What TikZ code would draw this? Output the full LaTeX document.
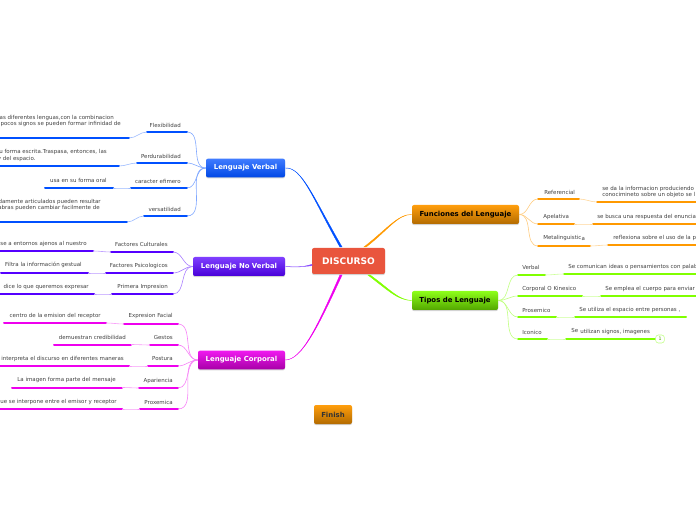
\documentclass[tikz,border=0pt]{standalone}
\usepackage{fontspec}
\setmainfont{DejaVu Sans}
\usepackage{tikz}
\usetikzlibrary{shadows,positioning}
\definecolor{cblue}{HTML}{0050FF}
\definecolor{cpurple}{HTML}{5500FF}
\definecolor{cmagenta}{HTML}{EE00EE}
\definecolor{corange}{HTML}{FF9900}
\definecolor{cgreen}{HTML}{80FF00}
\definecolor{cred}{HTML}{E9553D}
\tikzstyle{topic} = [draw=none, rounded corners=1.5pt, inner sep=0pt, font=\bfseries\fontsize{5.2}{6}\selectfont, drop shadow={shadow xshift=0pt,shadow yshift=-0.8pt,opacity=.35}]
\tikzstyle{lab} = [inner sep=0pt, text=black!75, font=\fontsize{4.12}{5}\selectfont]
\tikzstyle{bar} = [line width=1.5pt, line cap=round]
\tikzstyle{link} = [line width=0.45pt, out=180, in=0]
\tikzstyle{rlink} = [line width=0.45pt, out=0, in=180]
\tikzstyle{mainlink} = [line width=.3pt]
\begin{document}
\begin{tikzpicture}[x=0.75pt,y=-0.75pt]
	\useasboundingbox (0,0) rectangle (696,520);
	% central topic and main topics
	\node (disc) [topic,minimum width=54.75pt,minimum height=19.5pt,fill=cred,text=white,font=\bfseries\fontsize{6.8}{8}\selectfont] at (348.5,261) {DISCURSO};
	\node (verbal) [topic,minimum width=59.25pt,minimum height=14pt,top color=cblue!75!white,bottom color=cblue!90!black,text=white] at (245.5,168) {Lenguaje Verbal};
	\node (noverbal) [topic,minimum width=69pt,minimum height=14.25pt,top color=cpurple!75!white,bottom color=cpurple!85!black,text=white] at (239,266.5) {Lenguaje No Verbal};
	\node (corporal) [topic,minimum width=65.25pt,minimum height=14pt,top color=cmagenta!90!white,bottom color=cmagenta!70!black,text=white] at (241.5,360) {Lenguaje Corporal};
	\node (funciones) [topic,minimum width=80.25pt,minimum height=14.25pt,top color=corange!95!white,bottom color=corange!70!black,text=black] at (465.5,214.5) {Funciones del Lenguaje};
	\node (tipos) [topic,minimum width=64.5pt,minimum height=14.25pt,top color=cgreen!90!white,bottom color=cgreen!65!black,text=black] at (455,300.5) {Tipos de Lenguaje};
	\node (finish) [topic,minimum width=28.5pt,minimum height=14.25pt,top color=corange!95!white,bottom color=corange!70!black,text=black!80] at (333,414.5) {Finish};

	\coordinate (dv) at (341,247); % main links
	\coordinate (dn) at (312,265);
	\coordinate (dc) at (341,275);
	\coordinate (df) at (365,247);
	\coordinate (dt) at (369,275);
	\draw[mainlink,cblue,fill=cblue] ([xshift=-.8pt]dv) .. controls (312,197) and (302,167) .. (verbal.east) .. controls (302,167) and (313,197) .. ([xshift=.8pt]dv) -- cycle;
	\draw[mainlink,cpurple!70!white,fill=cpurple!70!white] ([yshift=-.5pt]dn) .. controls (300,267) and (295,267) .. (noverbal.east) .. controls (295,267) and (300,268) .. ([yshift=.5pt]dn) -- cycle;
	\draw[mainlink,cmagenta,fill=cmagenta] ([xshift=-.8pt]dc) .. controls (318,325) and (302,360) .. (corporal.east) .. controls (302,360) and (319,325) .. ([xshift=.8pt]dc) -- cycle;
	\draw[mainlink,corange,fill=corange] ([xshift=-.8pt]df) .. controls (386,230) and (398,214) .. (funciones.west) .. controls (398,214) and (387,231) .. ([xshift=.8pt]df) -- cycle;
	\draw[mainlink,cgreen,fill=cgreen] ([xshift=-.8pt]dt) .. controls (390,292) and (398,300) .. (tipos.west) .. controls (398,300) and (391,290) .. ([xshift=.8pt]dt) -- cycle;

	% Lenguaje Verbal
	\draw[bar,cblue] (147,132) coordinate (flexL) -- (187,132) coordinate (flexR);
	\draw[bar,cblue] (-5,138) -- (129,138) coordinate (flexT);
	\node (flex) [lab,anchor=east] at (181,125) {Flexibilidad};
	\node (flexa) [lab,anchor=east] at (114,118) {as diferentes lenguas,con la combinacion};
	\node (flexb) [lab,anchor=east] at (121,124) {pocos signos se pueden  formar infinidad de};
	\draw[bar,cblue] (137,163) coordinate (perdL) -- (187,163) coordinate (perdR);
	\draw[bar,cblue] (-5,166) -- (119,166) coordinate (perdT);
	\node (perd) [lab,anchor=east] at (181,156) {Perdurabilidad};
	\node (perda) [lab,anchor=east] at (107,152) {u forma escrita.Traspasa, entonces, las};
	\node (perdb) [lab,anchor=east] at (36,159) {y del espacio.};
	\draw[bar,cblue] (131,188) coordinate (efimL) -- (187,188) coordinate (efimR);
	\draw[bar,cblue] (45,188) -- (113,188) coordinate (efimT);
	\node (efim) [lab,anchor=east] at (181,181) {caracter efimero};
	\node (efima) [lab,anchor=east] at (107,180) {usa en su forma oral};
	\draw[bar,cblue] (144,216) coordinate (versL) -- (187,216) coordinate (versR);
	\draw[bar,cblue] (-5,222) -- (127,222) coordinate (versT);
	\node (vers) [lab,anchor=east] at (181,209) {versatilidad};
	\node (versa) [lab,anchor=east] at (101,202) {damente articulados pueden resultar};
	\node (versb) [lab,anchor=east] at (100,208) {abras pueden cambiar facilmente de};
	\foreach \n in {flex,perd,efim,vers} {
		\draw[link,cblue!50!white] (verbal.west) to (\n R);
		\draw[link,cblue!40!white] (\n L) to (\n T);
	}

	% Lenguaje No Verbal
	\draw[bar,cpurple] (111,252) coordinate (cultL) -- (173,252) coordinate (cultR);
	\draw[bar,cpurple] (-5,251) -- (93,251) coordinate (cultT);
	\node (cult) [lab,anchor=east] at (168,244) {Factores Culturales};
	\node (culta) [lab,anchor=east] at (87,244) {se a entornos ajenos al nuestro};
	\draw[bar,cpurple] (106,273) coordinate (psicL) -- (173,273) coordinate (psicR);
	\draw[bar,cpurple] (1,273) -- (88,273) coordinate (psicT);
	\node (psic) [lab,anchor=east] at (168,266) {Factores Psicologicos};
	\node (psica) [lab,anchor=east] at (82,265) {Filtra la información gestual};
	\draw[bar,cpurple] (112,294) coordinate (primL) -- (173,294) coordinate (primR);
	\draw[bar,cpurple] (-5,294) -- (94,294) coordinate (primT);
	\node (prim) [lab,anchor=east] at (168,287) {Primera Impresion};
	\node (prima) [lab,anchor=east] at (89,287) {dice lo que queremos expresar};
	\foreach \n in {cult,psic,prim} {
		\draw[link,cpurple!50!white] (noverbal.west) to (\n R);
		\draw[link,cpurple!40!white] (\n L) to (\n T);
	}

	% Lenguaje Corporal
	\draw[bar,cmagenta] (124,324) coordinate (exprL) -- (178,324) coordinate (exprR);
	\draw[bar,cmagenta] (4,323) -- (106,323) coordinate (exprT);
	\node (expr) [lab,anchor=east] at (173,316) {Expresion Facial};
	\node (expra) [lab,anchor=east] at (101,316) {centro de la emision del receptor};
	\draw[bar,cmagenta] (150,345) coordinate (gestL) -- (178,345) coordinate (gestR);
	\draw[bar,cmagenta] (54,344.5) -- (131,344.5) coordinate (gestT);
	\node (gest) [lab,anchor=east] at (173,338) {Gestos};
	\node (gesta) [lab,anchor=east] at (126,337) {demuestran credibilidad};
	\draw[bar,cmagenta] (148,366) coordinate (postL) -- (178,366) coordinate (postR);
	\draw[bar,cmagenta] (-5,366) -- (129,366) coordinate (postT);
	\node (post) [lab,anchor=east] at (173,359) {Postura};
	\node (posta) [lab,anchor=east] at (124,359) {interpreta el discurso  en diferentes maneras};
	\draw[bar,cmagenta] (139,388) coordinate (aparL) -- (178,388) coordinate (aparR);
	\draw[bar,cmagenta] (12,387.5) -- (122,387.5) coordinate (aparT);
	\node (apar) [lab,anchor=east] at (173,381) {Apariencia};
	\node (apara) [lab,anchor=east] at (116,380) {La imagen forma parte del mensaje};
	\draw[bar,cmagenta] (140,409) coordinate (proxL) -- (178,409) coordinate (proxR);
	\draw[bar,cmagenta] (-5,409) -- (122,409) coordinate (proxT);
	\node (prox) [lab,anchor=east] at (173,402) {Proxemica};
	\node (proxa) [lab,anchor=east] at (117,402) {ue se interpone entre el emisor y receptor};
	\foreach \n in {expr,gest,post,apar,prox} {
		\draw[link,cmagenta!50!white] (corporal.west) to (\n R);
		\draw[link,cmagenta!40!white] (\n L) to (\n T);
	}

	% Funciones del Lenguaje
	\draw[bar,corange] (538,199) coordinate (refeL) -- (579,199) coordinate (refeR);
	\draw[bar,corange] (597,202) coordinate (refeT) -- (701,202);
	\node (refe) [lab,anchor=west] at (544,192) {Referencial};
	\node (refea) [lab,anchor=west] at (602,189) {se da la informacion produciendo};
	\node (refeb) [lab,anchor=west] at (602,195) {conocimineto sobre un objeto se l};
	\draw[bar,corange] (538,224) coordinate (apelL) -- (574,224) coordinate (apelR);
	\draw[bar,corange] (593,224) coordinate (apelT) -- (701,224);
	\node (apel) [lab,anchor=west] at (543,217) {Apelativa};
	\node (apela) [lab,anchor=west] at (597,217) {se busca una respuesta del enunciad};
	\draw[bar,corange] (538,246) coordinate (metaL) -- (590,246) coordinate (metaR);
	\draw[bar,corange] (608,245) coordinate (metaT) -- (701,245);
	\node (meta) [lab,anchor=west] at (543,238) {Metalinguistic\raisebox{-.5pt}{a}};
	\node (metaa) [lab,anchor=west] at (613,238) {reflexiona sobre el uso de la p};
	\foreach \n in {refe,apel,meta} {
		\draw[rlink,corange!50!white] (funciones.east) to (\n L);
		\draw[rlink,corange!40!white] (\n R) to (\n T);
	}

	% Tipos de Lenguaje
	\draw[bar,cgreen] (518,275) coordinate (verbL) -- (545,275) coordinate (verbR);
	\draw[bar,cgreen] (564,274) coordinate (verbT) -- (701,274);
	\node (verb) [lab,anchor=west] at (522,267) {Verbal};
	\node (verba) [lab,anchor=west] at (568,267) {Se comunican ideas o pensamientos con  palab};
	\draw[bar,cgreen] (518,296) coordinate (kineL) -- (582,296) coordinate (kineR);
	\draw[bar,cgreen] (601,296) coordinate (kineT) -- (701,296);
	\node (kine) [lab,anchor=west] at (522,289) {Corporal O Kinesico};
	\node (kinea) [lab,anchor=west] at (605,289) {Se emplea el cuerpo para enviar};
	\draw[bar,cgreen] (518,317) coordinate (proseL) -- (556,317) coordinate (proseR);
	\draw[bar,cgreen] (575,317) coordinate (proseT) -- (686,317);
	\node (prose) [lab,anchor=west] at (522,310) {Prosemico};
	\node (prosea) [lab,anchor=west] at (579,310) {Se utiliza el espacio entre personas ,};
	\draw[bar,cgreen] (518,339) coordinate (iconL) -- (547,339) coordinate (iconR);
	\draw[bar,cgreen] (566,339) coordinate (iconT) -- (656,339) coordinate (iconE);
	\node (icon) [lab,anchor=west] at (522,332) {Iconico};
	\node (icona) [lab,anchor=west] at (571,331) {Se};
	\node (iconb) [lab,anchor=west] at (580,332) {utilizan signos, imagenes};
	\node (badge) [draw=cgreen!50!white,line width=.4pt,fill=white,rounded corners=2pt,minimum width=6.5pt,minimum height=6pt,inner sep=0pt,text=cgreen!60!black,font=\fontsize{3.5}{4}\selectfont] at (660,339) {1};
	\foreach \n in {verb,kine,prose,icon} {
		\draw[rlink,cgreen!50!white] (tipos.east) to (\n L);
		\draw[rlink,cgreen!40!white] (\n R) to (\n T);
	}
\end{tikzpicture}
\end{document}
